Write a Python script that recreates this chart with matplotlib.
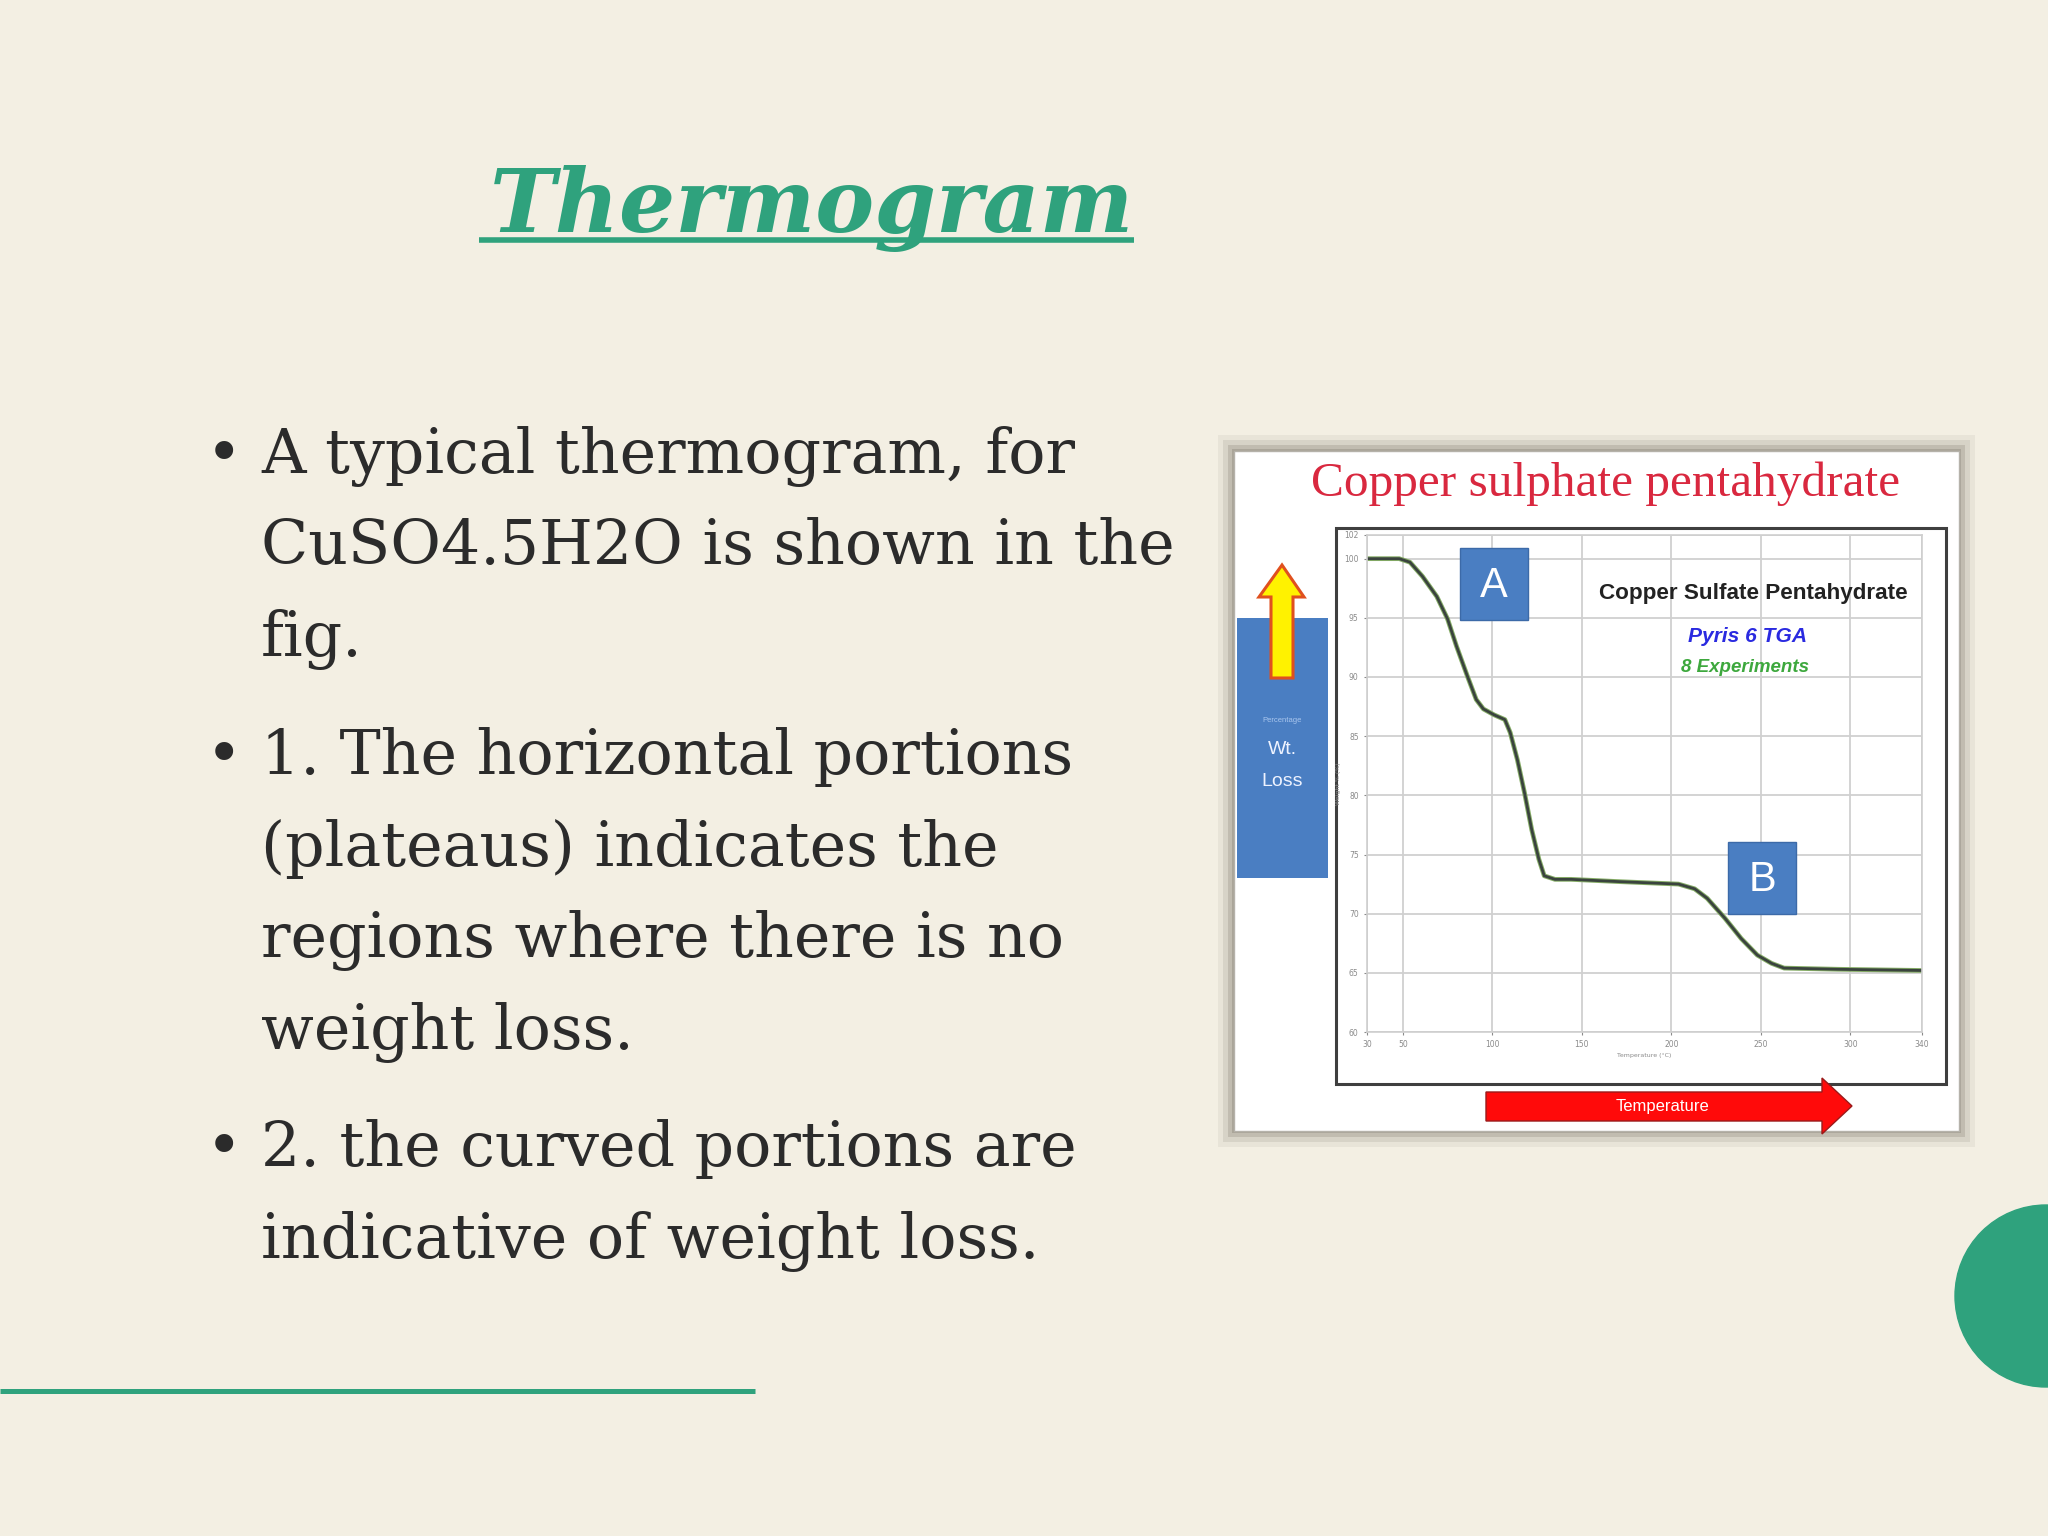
import matplotlib
matplotlib.use('Agg')
import matplotlib.pyplot as plt
from matplotlib.patches import Rectangle, Circle, Polygon

# ---------------- data ----------------
temperature_c = [30, 48, 54, 61, 69, 75, 80, 86, 91, 95, 101, 107, 110, 114,
                 118, 122, 126, 129, 135, 144, 172, 204, 213, 220, 230, 239,
                 248, 256, 263, 293, 340]
weight_pct = [100.0, 100.0, 99.7, 98.5, 96.8, 94.9, 92.6, 90.1, 88.1, 87.3,
              86.8, 86.4, 85.3, 83.0, 80.2, 77.1, 74.6, 73.2, 72.9, 72.9,
              72.7, 72.5, 72.1, 71.3, 69.6, 67.9, 66.5, 65.8, 65.4, 65.3,
              65.2]
x_ticks = [30, 50, 100, 150, 200, 250, 300, 340]
y_ticks = [60, 65, 70, 75, 80, 85, 90, 95, 100, 102]

slide_title = 'Thermogram'
bullets = [
    ['A typical thermogram, for', 'CuSO4.5H2O is shown in the', 'fig.'],
    ['1. The horizontal portions', '(plateaus) indicates the',
     'regions where there is no', 'weight loss.'],
    ['2. the curved portions are', 'indicative of weight loss.'],
]
chart_title = 'Copper sulphate pentahydrate'
inner_title = 'Copper Sulfate Pentahydrate'
inner_sub1 = 'Pyris 6 TGA'
inner_sub2 = '8 Experiments'

# ---------------- style ----------------
W, H = 2048, 1536
BG = '#F3EFE3'
TEAL = '#2FA27D'
BLUE = '#4A7EC2'
TXT = '#2B2B2B'

fig = plt.figure(figsize=(W / 100, H / 100), dpi=100, facecolor=BG)
renderer = fig.canvas.get_renderer()


def pix_axes(z):
    a = fig.add_axes([0, 0, 1, 1], zorder=z)
    a.set_xlim(0, W)
    a.set_ylim(H, 0)
    a.axis('off')
    a.patch.set_alpha(0)
    return a


bg = pix_axes(0)
top = pix_axes(3)


def fit_text(ax, x, y, s, target_w, base=40, **kw):
    t = ax.text(x, y, s, fontsize=base, **kw)
    w = t.get_window_extent(renderer).width
    t.set_fontsize(base * target_w / w)
    return t


# slide title
fit_text(bg, 490, 232, slide_title, 644, family='DejaVu Serif',
         weight='bold', style='italic', color=TEAL, ha='left', va='baseline')
bg.plot([479, 1134], [240, 240], color=TEAL, lw=4, solid_capstyle='butt')

# body text
probe = bg.text(0, 0, bullets[0][0], fontsize=40, family='DejaVu Serif')
body_fs = 40 * 812 / probe.get_window_extent(renderer).width
probe.remove()
baselines = [[473, 564, 656], [774, 866, 957, 1049], [1166, 1258]]
for lines, ys in zip(bullets, baselines):
    bg.text(206, ys[0], '\u2022', fontsize=body_fs, family='DejaVu Serif',
            color=TXT, ha='left', va='baseline')
    for s, y in zip(lines, ys):
        bg.text(261, y, s, fontsize=body_fs, family='DejaVu Serif',
                color=TXT, ha='left', va='baseline')

# decorations
bg.plot([0, 755], [1391, 1391], color=TEAL, lw=3.6, solid_capstyle='butt')
bg.add_patch(Circle((2046, 1296), 91, color=TEAL))

# picture panel with shadow
for pad, a in [(16, 0.10), (11, 0.18), (6, 0.30), (2, 0.45)]:
    bg.add_patch(Rectangle((1234 - pad, 451 - pad), 725 + 2 * pad, 680 + 2 * pad,
                           facecolor='#8f8a7e', edgecolor='none', alpha=a))
bg.add_patch(Rectangle((1234, 451), 725, 680, facecolor='white',
                       edgecolor='#b5b2aa', lw=1))
fit_text(bg, 1606, 496, chart_title, 588, family='Liberation Serif',
         color='#D9283F', ha='center', va='baseline')
bg.add_patch(Rectangle((1336, 528), 610, 556, facecolor='white',
                       edgecolor='#3f3f3f', lw=2.2))

# ---------------- TGA plot ----------------
L, R, T, B = 1367, 1922, 535, 1032
ax = fig.add_axes([L / W, 1 - B / H, (R - L) / W, (B - T) / H], zorder=1)
ax.set_facecolor('white')
ax.plot(temperature_c, weight_pct, color='#86ad66', lw=3.4,
        solid_joinstyle='round', solid_capstyle='round')
ax.plot(temperature_c, weight_pct, color='#3a433e', lw=2.0,
        solid_joinstyle='round', solid_capstyle='round')
ax.set_xlim(30, 340)
ax.set_ylim(60, 102)
ax.set_xticks(x_ticks)
ax.set_yticks(y_ticks)
ax.grid(True, color='#d0d0d0', lw=1.3)
ax.set_axisbelow(True)
for sp in ax.spines.values():
    sp.set_color('#cfcfcf')
    sp.set_linewidth(1.2)
ax.tick_params(labelsize=5.5, colors='#8a8a8a', length=2, pad=4)
ax.set_xlabel('Temperature (\u00b0C)', fontsize=4.5, color='#8a8a8a', labelpad=3)
ax.set_ylabel('Weight % (%)', fontsize=4.5, color='#8a8a8a', labelpad=2)

# ---------------- overlays ----------------
for (x0, y0, lab) in [(1460, 548, 'A'), (1728, 842, 'B')]:
    top.add_patch(Rectangle((x0, y0), 68, 72, facecolor=BLUE, edgecolor='#3c6aa8', lw=1))
    top.text(x0 + 34, y0 + 38, lab, fontsize=30, color='white',
             family='Liberation Sans', ha='center', va='center')

fit_text(top, 1753, 594, inner_title, 308, family='Liberation Sans',
         weight='bold', color='#222222', ha='center', va='center')
fit_text(top, 1747, 637, inner_sub1, 119, family='Liberation Sans',
         weight='bold', style='italic', color='#2A2AE0', ha='center', va='center')
fit_text(top, 1745, 667, inner_sub2, 128, family='Liberation Sans',
         weight='bold', style='italic', color='#3DA83D', ha='center', va='center')

# left blue label box + yellow arrow
top.add_patch(Rectangle((1237, 618), 91, 260, facecolor=BLUE, edgecolor='none'))
top.text(1282, 721, 'Percentage', fontsize=5.5, color='#a9c6ee',
         family='Liberation Sans', ha='center', va='center')
top.text(1282, 750, 'Wt.', fontsize=14, color='#eef3ff',
         family='Liberation Sans', ha='center', va='center')
top.text(1282, 781, 'Loss', fontsize=14, color='#eef3ff',
         family='Liberation Sans', ha='center', va='center')
top.add_patch(Polygon([(1271, 678), (1293, 678), (1293, 597), (1304, 597),
                       (1282, 565), (1259, 597), (1271, 597)], closed=True,
                      facecolor='#FFF200', edgecolor='#E0501E', lw=2.2))

# red temperature arrow
top.add_patch(Polygon([(1486, 1092), (1822, 1092), (1822, 1078), (1852, 1106),
                       (1822, 1134), (1822, 1121), (1486, 1121)], closed=True,
                      facecolor='#FF0A0A', edgecolor='#9a1a1a', lw=1))
top.text(1663, 1107, 'Temperature', fontsize=12, color='white',
         family='Liberation Sans', ha='center', va='center')

fig.savefig('out.png', dpi=100, facecolor=BG)
